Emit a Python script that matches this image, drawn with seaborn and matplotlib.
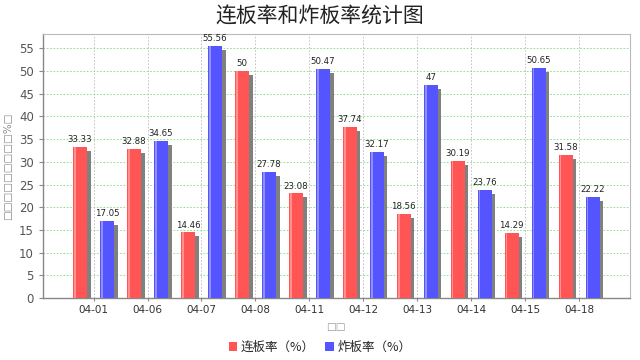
import numpy as np
import pandas as pd
import matplotlib
matplotlib.use("Agg")
import matplotlib.pyplot as plt
from matplotlib.patches import Rectangle
import seaborn as sns

# data
dates = ["04-01", "04-06", "04-07", "04-08", "04-11", "04-12", "04-13", "04-14", "04-15", "04-18"]
lianban = [33.33, 32.88, 14.46, 50, 23.08, 37.74, 18.56, 30.19, 14.29, 31.58]
zhaban = [17.05, 34.65, 55.56, 27.78, 50.47, 32.17, 47, 23.76, 50.65, 22.22]
series_names = ["连板率（%）", "炸板率（%）"]
colors = ["#FF5555", "#5555FF"]

df = pd.DataFrame({
    "date": dates * 2,
    "value": lianban + zhaban,
    "series": [series_names[0]] * len(dates) + [series_names[1]] * len(dates),
})

sns.set_style("white")
plt.rcParams['font.family'] = ['Noto Sans CJK SC', 'DejaVu Sans']

fig = plt.figure(figsize=(6.4, 3.6), dpi=100)
ax = fig.add_axes([0.067, 0.172, 0.917, 0.733])

sns.barplot(data=df, x="date", y="value", hue="series", palette=colors,
            width=1.0, gap=0.48, saturation=1, ax=ax, legend=False,
            edgecolor="none", linewidth=0, zorder=3)

# shadows + highlight stripe, JFreeChart style
to_data = ax.transData.inverted()
for p in list(ax.patches):
    x, w, h = p.get_x(), p.get_width(), p.get_height()
    if h <= 0:
        continue
    # pixel offsets converted into data units
    x0, y0 = to_data.transform((0, 0))
    x1, y1 = to_data.transform((4, 4))
    dx, dy = x1 - x0, y1 - y0
    ax.add_patch(Rectangle((x + dx, 0), w, h - dy, facecolor="#808080",
                           edgecolor="none", zorder=2))
    ax.add_patch(Rectangle((x + w * 0.08, 0), w * 0.12, h, facecolor="white",
                           alpha=0.35, edgecolor="none", zorder=4))
    ax.text(x + w / 2, h + 0.6, f"{h:g}", ha="center", va="bottom",
            fontsize=6.2, family="DejaVu Sans", color="#222222", zorder=5)

ax.set_xlim(-0.94, 9.94)
ax.set_ylim(0, 58.1)
ax.set_yticks(range(0, 56, 5))
ax.grid(axis="y", color="#7fdc7f", linestyle=(0, (2, 2)), linewidth=0.6, zorder=0)
ax.grid(axis="x", color="#bbbbbb", linestyle=(0, (2, 2)), linewidth=0.6, zorder=0)

ax.tick_params(axis="y", labelsize=8.5, labelcolor="#555555", length=3,
               color="#888888", direction="out", left=True)
ax.tick_params(axis="x", labelsize=7.5, labelcolor="#333333", length=2,
               color="#888888", direction="out", bottom=True, pad=3)
for lab in ax.get_xticklabels() + ax.get_yticklabels():
    lab.set_family("DejaVu Sans")

for s in ["left", "bottom"]:
    ax.spines[s].set_color("#888888")
    ax.spines[s].set_linewidth(1.0)
for s in ["top", "right"]:
    ax.spines[s].set_color("#bbbbbb")
    ax.spines[s].set_linewidth(0.8)

ax.set_xlabel("□□", fontsize=7.5, color="#999999", family="DejaVu Sans", labelpad=5)
ax.set_ylabel("□□□□□□□□□%□", fontsize=7.5, color="#888888", family="DejaVu Sans", labelpad=4)

fig.suptitle("连板率和炸板率统计图", y=0.985, fontsize=15, color="#222222")

handles = [Rectangle((0, 0), 1, 1, facecolor=c, edgecolor="none") for c in colors]
fig.legend(handles, series_names, loc="lower center", bbox_to_anchor=(0.5, -0.015),
           ncol=2, frameon=False, fontsize=9, handlelength=0.7, handleheight=0.7,
           handletextpad=0.3, columnspacing=0.8)

fig.savefig("out.png", dpi=100)
